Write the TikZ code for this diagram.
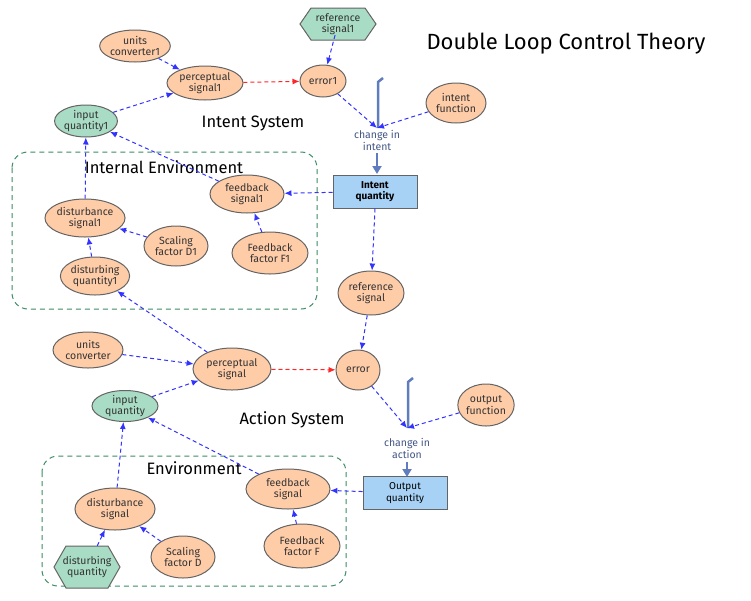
\documentclass[tikz,border=0pt]{standalone}
\usepackage{fontspec}
\setmainfont{Fira Sans}
\usetikzlibrary{arrows.meta,calc,shapes.geometric}
\definecolor{org}{RGB}{255,204,168}
\definecolor{grn}{RGB}{168,220,196}
\definecolor{bbox}{RGB}{168,210,245}
\definecolor{arr}{RGB}{51,51,255}
\definecolor{env}{RGB}{60,140,100}
\definecolor{tkc}{RGB}{95,125,190}
\definecolor{bord}{RGB}{100,100,100}
\begin{document}
\begin{tikzpicture}[x=1pt,y=-1pt,
 ov/.style={ellipse,draw=bord,line width=1pt,fill=org,inner sep=0pt,align=center,font=\fontsize{10.5}{11.5}\selectfont,text=black!80},
 gv/.style={ov,fill=grn},
 bx/.style={draw=bord,line width=1pt,fill=bbox,align=center,font=\fontsize{10}{11.5}\selectfont\bfseries,minimum width=84pt,minimum height=33pt},
 hx/.style={draw=none,align=center,font=\fontsize{10.5}{11.5}\selectfont,text=black!80,inner sep=0pt},
 a/.style={arr,dashed,line width=1pt,dash pattern=on 4pt off 3pt,-{Latex[length=7pt,width=6pt]}},
 ra/.style={a,red!85},
 en/.style={env,dashed,line width=1pt,dash pattern=on 5pt off 4pt,rounded corners=16pt},
 tk/.style={draw=tkc,fill=tkc,line width=2.5pt},
 lb/.style={font=\fontsize{10.5}{12}\selectfont,text=tkc!70!black,align=center}]
\useasboundingbox (0,0) rectangle (751,600);
\node[font=\fontsize{22}{26}\selectfont] (title) at (566,44) {Double Loop Control Theory};
\node[font=\fontsize{16.5}{19}\selectfont] (ist) at (253,123) {Intent System};
\node[font=\fontsize{16.5}{19}\selectfont] (ast) at (292,420) {Action System};
\draw[en] (12,152) rectangle (317,309);
\node[font=\fontsize{16.5}{19}\selectfont] (ie) at (164,167) {Internal Environment};
\draw[en] (42,456) rectangle (346,586);
\node[font=\fontsize{16.5}{19}\selectfont] (ee) at (194,468) {Environment};
% hexagons
\filldraw[draw=bord,line width=1pt,fill=grn] (300,24)--(311,8)--(365,8)--(376,24)--(365,40)--(311,40)--cycle;
\node[hx] (rs1) at (338,24) {reference\\signal1};
\filldraw[draw=bord,line width=1pt,fill=grn] (54,567)--(66,546)--(108,546)--(120,567)--(108,588)--(66,588)--cycle;
\node[hx,minimum width=66pt,minimum height=42pt] (dq) at (87,567) {disturbing\\quantity};
\node[ov,minimum width=70pt,minimum height=32pt] (uc1) at (135,46) {units\\converter1};
\node[ov,minimum width=76pt,minimum height=34pt] (ps1) at (205,83) {perceptual\\signal1};
\node[ov,minimum width=46pt,minimum height=32pt] (e1) at (323,81) {error1};
\node[gv,minimum width=62pt,minimum height=32pt] (iq1) at (86,121) {input\\quantity1};
\node[ov,minimum width=60pt,minimum height=40pt] (if) at (456,103) {intent\\function};
\node[lb] (ci) at (377,140) {change in\\intent};
\coordinate (cip) at (377,128);
\draw[tk,draw=tkc,fill=none] (383,78)--(378,82)--(378,128);
\draw[tk,-{Triangle[length=8pt,width=9pt]}] (377,153)--(377,174);
\node[bx] (iq) at (375,191.5) {Intent\\quantity};
\node[ov,minimum width=74pt,minimum height=38pt] (fs1) at (247,194) {feedback\\signal1};
\node[ov,minimum width=76pt,minimum height=38pt] (ds1) at (85,218) {disturbance\\signal1};
\node[ov,minimum width=64pt,minimum height=40pt] (sd1) at (176,246) {Scaling\\factor D1};
\node[ov,minimum width=76pt,minimum height=42pt] (ff1) at (270,253) {Feedback\\factor F1};
\node[ov,minimum width=66pt,minimum height=38pt] (dq1) at (95,276) {disturbing\\quantity1};
\node[ov,minimum width=66pt,minimum height=44pt] (rs) at (371,293) {reference\\signal};
\node[ov,minimum width=70pt,minimum height=36pt] (uc) at (88,350) {units\\converter};
\node[ov,minimum width=78pt,minimum height=42pt] (ps) at (232,369) {perceptual\\signal};
\node[ov,minimum width=44pt,minimum height=40pt] (er) at (358,370) {error};
\node[ov,minimum width=56pt,minimum height=42pt] (of) at (486,405) {output\\function};
\node[gv,minimum width=66pt,minimum height=30pt] (iq0) at (125,406) {input\\quantity};
\node[lb] (ca) at (407,448) {change in\\action};
\coordinate (cap) at (407,428);
\draw[tk,fill=none] (413,378)--(408,382)--(408,428);
\draw[tk,-{Triangle[length=8pt,width=9pt]}] (407,462)--(407,477);
\node[bx,font=\fontsize{10}{11.5}\selectfont] (oq) at (405,493) {Output\\quantity};
\node[ov,minimum width=84pt,minimum height=40pt] (fs) at (288,489) {feedback\\signal};
\node[ov,minimum width=76pt,minimum height=44pt] (ff) at (302,546) {Feedback\\factor F};
\node[ov,minimum width=76pt,minimum height=42pt] (ds) at (115,509) {disturbance\\signal};
\node[ov,minimum width=64pt,minimum height=42pt] (sd) at (183,557) {Scaling\\factor D};
% edges
\draw[a] (uc1) -- (ps1);
\draw[a] (iq1) -- (ps1);
\draw[ra] (ps1) -- (e1);
\draw[a] (rs1) -- (e1);
\draw[a] (e1) -- (cip);
\draw[a] (if) -- (cip);
\draw[a] (iq) -- (fs1);
\draw[a] (iq.south) -- (rs);
\draw[a] (fs1) -- (iq1);
\draw[a] (ds1) -- (iq1);
\draw[a] (sd1) -- (ds1);
\draw[a] (ff1) -- (fs1);
\draw[a] (dq1) -- (ds1);
\draw[a] (ps) -- (dq1);
\draw[a] (uc) -- (ps);
\draw[a] (iq0) -- (ps);
\draw[ra] (ps) -- (er);
\draw[a] (rs) -- (er);
\draw[a] (er) -- (cap);
\draw[a] (of) -- (cap);
\draw[a] (oq) -- (fs);
\draw[a] (fs) -- (iq0);
\draw[a] (ds) -- (iq0);
\draw[a] (sd) -- (ds);
\draw[a] (dq) -- (ds);
\draw[a] (ff) -- (fs);
\end{tikzpicture}
\end{document}
